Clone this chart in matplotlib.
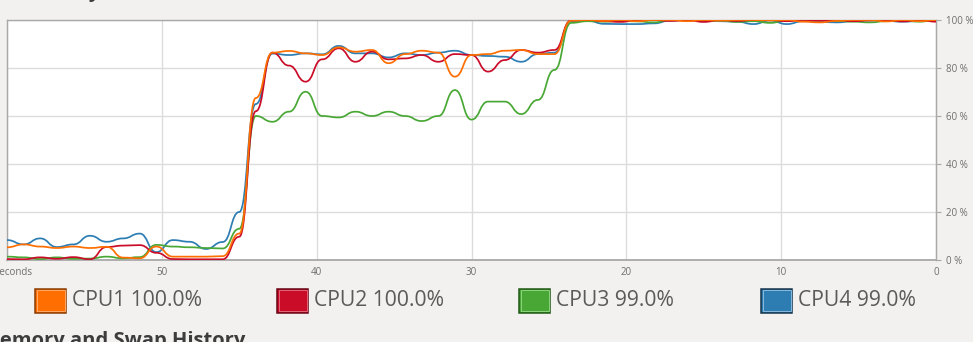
import numpy as np
import matplotlib
matplotlib.use("Agg")
import matplotlib.pyplot as plt
from matplotlib.path import Path
from matplotlib.patches import PathPatch, Rectangle

# ---- data (percent CPU, sampled from 60 s ago to now) ----
seconds_ago = np.linspace(60, 0, 57)

cpu1 = [5.3, 6.5, 5.6, 5.0, 5.6, 5.0, 5.5, 1.0, 0.7, 5.6, 1.4, 1.4, 1.4, 1.6, 11.0,
        67.5, 86.4, 87.1, 86.1, 85.4, 88.6, 86.8, 87.5, 82.0, 85.8, 87.2, 86.4, 76.4,
        85.4, 85.8, 87.2, 87.5, 85.8, 85.8, 99.7,
        100, 99.6, 100, 99.5, 100, 100, 99.5, 100, 99.7, 100, 100, 99.8, 100, 99.3,
        99.0, 99.6, 100, 100, 99.4, 100, 99.5, 100]
cpu2 = [0.4, 0.3, 1.1, 0.5, 1.2, 0.3, 5.4, 6.0, 6.2, 3.0, 0.4, 0.3, 0.3, 0.3, 9.7,
        62.0, 86.4, 81.0, 74.3, 83.6, 88.2, 82.6, 86.8, 83.6, 84.0, 85.4, 82.6, 85.8,
        85.4, 78.5, 83.3, 87.5, 86.4, 87.5, 99.8,
        100, 99.5, 99.2, 100, 100, 99.6, 100, 99.2, 100, 99.6, 100, 100, 99.5, 100,
        99.7, 100, 99.5, 99.8, 100, 99.4, 100, 99.3]
cpu3 = [1.4, 1.1, 0.4, 1.1, 0.5, 0.6, 1.4, 0.7, 1.2, 6.3, 5.6, 5.3, 5.0, 4.8, 13.0,
        60.0, 57.6, 61.8, 70.1, 60.0, 59.4, 61.8, 60.0, 61.8, 60.0, 57.9, 60.0, 70.8,
        58.5, 66.0, 66.0, 60.8, 66.7, 79.2, 98.8,
        99.5, 99.3, 99.6, 99.4, 99.0, 100, 100, 99.5, 99.8, 99.2, 99.5, 98.8, 99.8, 100,
        100, 99.6, 99.3, 99.0, 99.5, 99.8, 99.3, 100]
cpu4 = [8.3, 6.5, 9.0, 5.4, 6.5, 10.1, 7.6, 9.0, 11.0, 3.3, 8.3, 7.6, 4.6, 7.5, 20.0,
        65.0, 86.0, 85.4, 86.1, 85.7, 89.2, 86.1, 86.1, 84.4, 86.1, 85.4, 86.4, 87.2,
        85.4, 85.0, 84.7, 82.6, 85.8, 86.4, 99.5,
        99.7, 98.4, 98.3, 98.3, 98.6, 99.8, 100, 99.8, 99.5, 99.3, 98.3, 99.8, 98.3, 99.5,
        99.2, 99.0, 99.5, 100, 99.6, 99.3, 99.6, 100]

names = ["CPU1", "CPU2", "CPU3", "CPU4"]
current = ["100.0%", "100.0%", "99.0%", "99.0%"]
colors = ["#ff6e00", "#cb0c29", "#49a835", "#2d7db3"]
edge_dark = ["#8a3c00", "#6a0615", "#1f5a14", "#16344c"]
edge_light = ["#ffa866", "#e0687a", "#8fd47f", "#8ab9dc"]

x_ticks = [60, 50, 40, 30, 20, 10, 0]
x_labels = ["60 seconds", "50", "40", "30", "20", "10", "0"]
y_ticks = [0, 20, 40, 60, 80, 100]
y_labels = ["0 %", "20 %", "40 %", "60 %", "80 %", "100 %"]

plt.rcParams['font.family'] = ['Open Sans', 'DejaVu Sans']

W, H = 973, 342
fig = plt.figure(figsize=(W / 100, H / 100), dpi=100, facecolor="#f2f1f0")
ax = fig.add_axes([7 / W, 82 / H, 929 / W, 240 / H])
ax.set_facecolor("white")
ax.set_xlim(60, 0)
ax.set_ylim(0, 100)


def smooth_path(xs, ys):
    verts = [(xs[0], ys[0])]
    codes = [Path.MOVETO]
    for i in range(1, len(xs)):
        xm = (xs[i - 1] + xs[i]) / 2.0
        verts += [(xm, ys[i - 1]), (xm, ys[i]), (xs[i], ys[i])]
        codes += [Path.CURVE4] * 3
    return Path(verts, codes)


series = [cpu1, cpu2, cpu3, cpu4]
for idx in [3, 2, 1, 0]:
    p = PathPatch(smooth_path(seconds_ago, series[idx]), fill=False,
                  edgecolor=colors[idx], lw=1.25, zorder=3)
    ax.add_patch(p)

ax.set_xticks(x_ticks)
ax.set_xticklabels(x_labels)
ax.set_yticks(y_ticks)
ax.set_yticklabels(y_labels, ha="left")
ax.yaxis.tick_right()
ax.grid(True, color="#dcdcdc", lw=1.0, zorder=0)
ax.set_axisbelow(True)
for s in ax.spines.values():
    s.set_color("#a8a8a8")
    s.set_linewidth(1.0)
ax.spines["bottom"].set_linewidth(1.3)
ax.tick_params(axis="x", length=0, pad=5, labelsize=7, labelcolor="#6e6e6e")
ax.tick_params(axis="y", length=3.5, pad=4, labelsize=7, labelcolor="#6e6e6e",
               color="#a8a8a8", right=True, left=False)

# legend
for i in range(4):
    x0 = 35 + i * 242
    r = Rectangle((x0 / W, 1 - 312.5 / H), 31 / W, 24 / H, transform=fig.transFigure,
                  facecolor=colors[i], edgecolor=edge_dark[i], lw=1.1)
    fig.add_artist(r)
    r2 = Rectangle(((x0 + 1.5) / W, 1 - 311 / H), 28 / W, 21 / H, transform=fig.transFigure,
                   facecolor="none", edgecolor=edge_light[i], lw=0.7)
    fig.add_artist(r2)
    fig.text((x0 + 37) / W, 1 - 300.5 / H, f"{names[i]} {current[i]}",
             fontsize=15.2, color="#5a5a5a", va="center", ha="left")

# section headings (clipped by canvas edges, as in the original window)
fig.text(-19 / W, 1 - (-3) / H, "CPU History", fontsize=14.5, fontweight="bold",
         color="#3c3c3c", va="baseline", ha="left")
fig.text(-19 / W, 1 - 346 / H, "Memory and Swap History", fontsize=14.5, fontweight="bold",
         color="#3c3c3c", va="baseline", ha="left")

fig.savefig("out.png", dpi=100, facecolor=fig.get_facecolor())
